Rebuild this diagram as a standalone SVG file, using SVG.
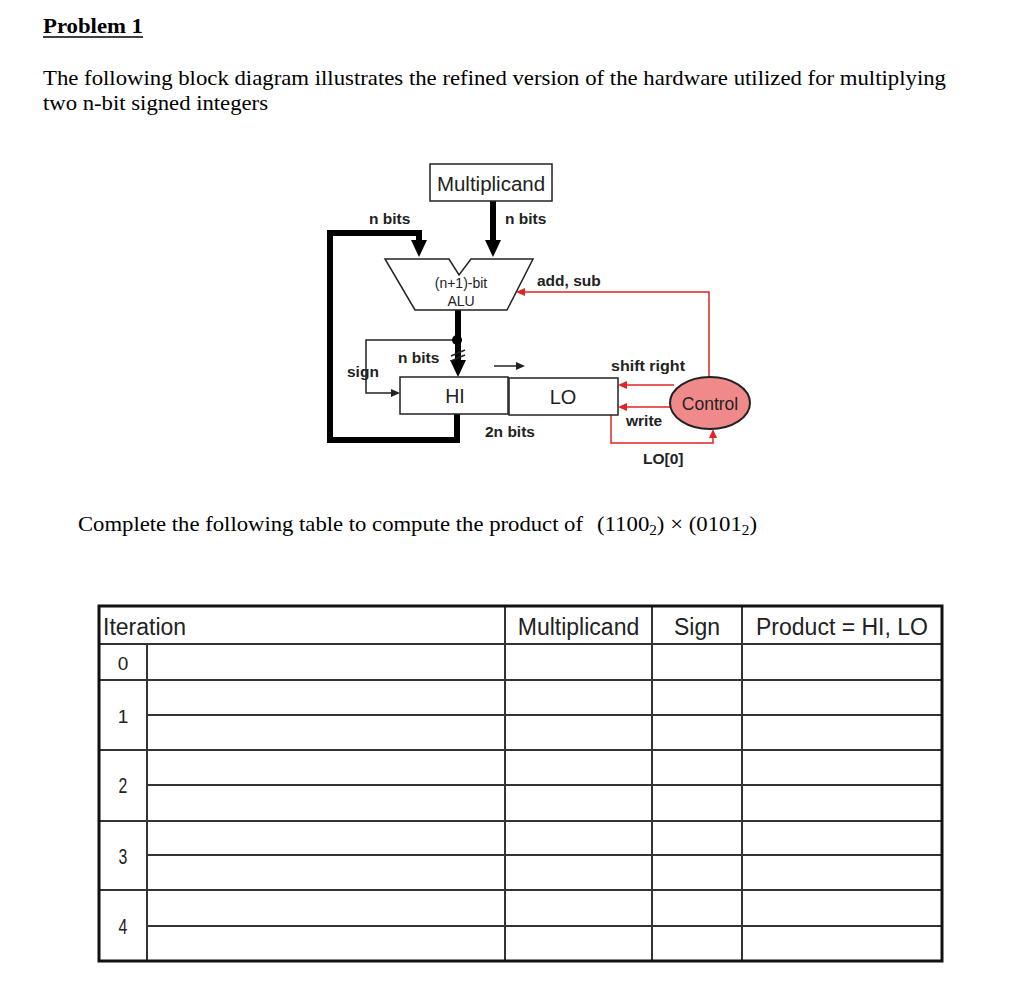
<svg xmlns="http://www.w3.org/2000/svg" width="1024" height="983" viewBox="0 0 1024 983">
<style>
.serif{font-family:"Liberation Serif","Times New Roman",serif;fill:#000}
.sans{font-family:"Liberation Sans",Arial,sans-serif;fill:#222}
.lbl{font-family:"Liberation Sans",Arial,sans-serif;font-weight:bold;font-size:15.5px;fill:#222}
.thick{stroke:#000;stroke-width:6;fill:none;stroke-linejoin:miter}
.thin{stroke:#222;stroke-width:1.5;fill:none}
.red{stroke:#e02424;stroke-width:1.5;fill:none}
.box{fill:#fff;stroke:#222;stroke-width:1.5}
.grid{stroke:#333;stroke-width:2}
.th{font-size:23px}
.num{font-size:19px}
.numc{font-size:22px}
</style>
<defs>
<marker id="ah" markerUnits="userSpaceOnUse" viewBox="0 0 17 16" refX="9" refY="8" markerWidth="17" markerHeight="16" orient="auto"><path d="M0,0L17,8L0,16z" fill="#000"/></marker>
<marker id="as" markerUnits="userSpaceOnUse" viewBox="0 0 9 8" refX="7" refY="4" markerWidth="9" markerHeight="8" orient="auto"><path d="M0,0L9,4L0,8z" fill="#222"/></marker>
<marker id="ar" markerUnits="userSpaceOnUse" viewBox="0 0 9 8" refX="7" refY="4" markerWidth="9" markerHeight="8" orient="auto"><path d="M0,0L9,4L0,8z" fill="#e02424"/></marker>
</defs>
<rect width="1024" height="983" fill="#fff"/>

<g id="heading">
<text class="serif" x="43" y="33" font-size="21" font-weight="bold" textLength="100" lengthAdjust="spacingAndGlyphs">Problem 1</text>
<line x1="43" y1="37" x2="143" y2="37" stroke="#000" stroke-width="1.5"/>
<text class="serif" x="43" y="85" font-size="21" textLength="903" lengthAdjust="spacingAndGlyphs">The following block diagram illustrates the refined version of the hardware utilized for multiplying</text>
<text class="serif" x="43" y="110" font-size="21" textLength="225" lengthAdjust="spacingAndGlyphs">two n-bit signed integers</text>
</g>

<g id="connectors">
<path class="thick" d="M493,201V249" marker-end="url(#ah)"/>
<path class="thick" d="M457,414V440H330V233H419V249" marker-end="url(#ah)"/>
<path class="thick" d="M458,310V369" marker-end="url(#ah)"/>
<path class="thin" d="M457,340H366V393H398" marker-end="url(#as)"/>
<path class="thin" d="M494,366H523" marker-end="url(#as)"/>
<path class="thin" d="M451,356L465,350M451,361L465,355"/>
<circle cx="457" cy="340" r="5" fill="#000"/>
<path class="red" d="M709,380V292H518" marker-end="url(#ar)"/>
<path class="red" d="M674,385H620" marker-end="url(#ar)"/>
<path class="red" d="M672,407H620" marker-end="url(#ar)"/>
<path class="red" d="M611,415V443H713V431" marker-end="url(#ar)"/>
</g>

<g id="multiplicand">
<rect class="box" x="430" y="164" width="122" height="37"/>
<text class="sans" x="491" y="191" font-size="20.5" text-anchor="middle">Multiplicand</text>
</g>
<g id="alu">
<polygon class="box" points="385,259 449,259 459,275 471,259 533,259 507,310 415,310"/>
<text class="sans" x="461" y="288" font-size="14" text-anchor="middle" fill="#333">(n+1)-bit</text>
<text class="sans" x="461" y="306" font-size="14" text-anchor="middle" fill="#333">ALU</text>
</g>
<g id="hi">
<rect class="box" x="400" y="377" width="108" height="37"/>
<text class="sans" x="455" y="403" font-size="19.5" text-anchor="middle">HI</text>
</g>
<g id="lo">
<rect class="box" x="509" y="378" width="109" height="37"/>
<text class="sans" x="563" y="404" font-size="20" text-anchor="middle">LO</text>
</g>
<g id="control">
<ellipse cx="710" cy="403" rx="40" ry="26" fill="#f08a8a" stroke="#222" stroke-width="2"/>
<text class="sans" x="710" y="409.500" font-size="17.5" text-anchor="middle">Control</text>
</g>
<g id="labels">
<text class="lbl" x="369" y="224">n bits</text>
<text class="lbl" x="505" y="224">n bits</text>
<text class="lbl" x="537" y="286">add, sub</text>
<text class="lbl" x="398" y="363">n bits</text>
<text class="lbl" x="347" y="377">sign</text>
<text class="lbl" x="485" y="437">2n bits</text>
<text class="lbl" x="611" y="371" textLength="74" lengthAdjust="spacingAndGlyphs">shift right</text>
<text class="lbl" x="626" y="426">write</text>
<text class="lbl" x="643" y="464">LO[0]</text>
</g>

<g id="question">
<text class="serif" x="78" y="531" font-size="21" textLength="505" lengthAdjust="spacingAndGlyphs">Complete the following table to compute the product of</text>
<text class="serif" x="597" y="531" font-size="21" textLength="160" lengthAdjust="spacingAndGlyphs">(1100<tspan font-size="14" dy="4">2</tspan><tspan dy="-4">) × (0101</tspan><tspan font-size="14" dy="4">2</tspan><tspan dy="-4">)</tspan></text>
</g>

<g id="table">
<g class="grid">
<line x1="99" y1="644" x2="942" y2="644"/>
<line x1="99" y1="680" x2="942" y2="680"/>
<line x1="147" y1="715" x2="942" y2="715"/>
<line x1="99" y1="750" x2="942" y2="750"/>
<line x1="147" y1="785" x2="942" y2="785"/>
<line x1="99" y1="821" x2="942" y2="821"/>
<line x1="147" y1="855" x2="942" y2="855"/>
<line x1="99" y1="890" x2="942" y2="890"/>
<line x1="147" y1="926" x2="942" y2="926"/>
<line x1="147" y1="644" x2="147" y2="961"/>
<line x1="505" y1="606" x2="505" y2="961"/>
<line x1="652" y1="606" x2="652" y2="961"/>
<line x1="742" y1="606" x2="742" y2="961"/>
</g>
<rect x="99" y="606" width="843" height="355" fill="none" stroke="#111" stroke-width="3"/>
<text class="sans th" x="103" y="635">Iteration</text>
<text class="sans th" x="578.500" y="635" text-anchor="middle">Multiplicand</text>
<text class="sans th" x="697" y="635" text-anchor="middle">Sign</text>
<text class="sans th" x="842" y="635" text-anchor="middle">Product = HI, LO</text>
<text class="sans num" x="123" y="670" text-anchor="middle">0</text>
<text class="sans num" x="123" y="723" text-anchor="middle">1</text>
<text class="sans numc" transform="translate(123 793) scale(0.72 1)" text-anchor="middle">2</text>
<text class="sans numc" transform="translate(123 864) scale(0.72 1)" text-anchor="middle">3</text>
<text class="sans numc" transform="translate(123 934) scale(0.72 1)" text-anchor="middle">4</text>
</g>
</svg>
